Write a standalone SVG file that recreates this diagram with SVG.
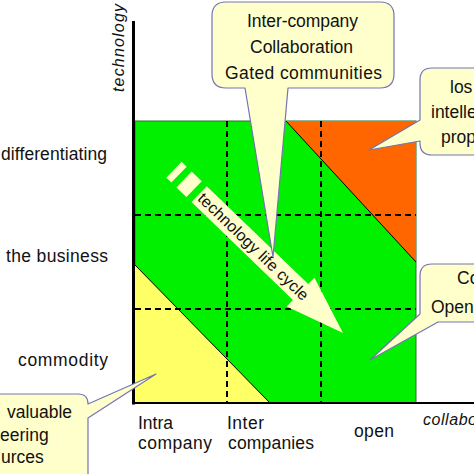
<svg xmlns="http://www.w3.org/2000/svg" width="474" height="474" viewBox="0 0 474 474">
<defs>
<style>
text{font-family:"Liberation Sans",Arial,sans-serif;fill:#111;}
.lbl{font-size:17.5px;}
.cl{font-size:17.5px;}
.ax{font-size:16px;font-style:italic;}
.dash{stroke:#000;stroke-width:2;stroke-dasharray:6 4;fill:none;}
.callout{fill:#ffffcc;stroke:#7474b4;stroke-width:1.2;stroke-linejoin:round;}
.diag{stroke:#000;stroke-width:1;}
</style>
</defs>
<rect width="474" height="474" fill="#fff"/>

<g id="regions">
<rect x="135" y="121" width="281" height="282" fill="#00f000" stroke="#2d6e2d" stroke-width="1"/>
<polygon points="286,121 416,121 416,262" fill="#ff6600"/>
<line class="diag" x1="286" y1="121" x2="416" y2="262"/>
<polygon points="135,265 135,403 270,403" fill="#ffff66"/>
<line class="diag" x1="135" y1="265" x2="270" y2="403"/>
</g>

<g id="grid">
<line class="dash" x1="227" y1="121" x2="227" y2="403"/>
<line class="dash" x1="321" y1="121" x2="321" y2="403"/>
<line class="dash" x1="135" y1="215" x2="416" y2="215"/>
<line class="dash" x1="135" y1="309" x2="416" y2="309"/>
</g>

<g id="axes">
<line x1="133.5" y1="21" x2="133.5" y2="404.5" stroke="#000" stroke-width="3"/>
<line x1="132" y1="403" x2="474" y2="403" stroke="#000" stroke-width="2.2"/>
<text class="ax" transform="translate(124,48) rotate(-90)" text-anchor="middle" textLength="88" lengthAdjust="spacing">technology</text>
<text class="ax" x="423" y="425" textLength="54" lengthAdjust="spacing">collabo</text>
</g>

<g id="y-labels">
<text class="lbl" x="1" y="160" textLength="106" lengthAdjust="spacing">differentiating</text>
<text class="lbl" x="6" y="262" textLength="102" lengthAdjust="spacing">the business</text>
<text class="lbl" x="18" y="366" textLength="90" lengthAdjust="spacing">commodity</text>
</g>

<g id="x-labels">
<text class="lbl" x="138" y="429" textLength="35" lengthAdjust="spacing">Intra</text>
<text class="lbl" x="138" y="449" textLength="74" lengthAdjust="spacing">company</text>
<text class="lbl" x="227" y="429" textLength="37" lengthAdjust="spacing">Inter</text>
<text class="lbl" x="228" y="449" textLength="86" lengthAdjust="spacing">companies</text>
<text class="lbl" x="354" y="437" textLength="40" lengthAdjust="spacing">open</text>
</g>

<g id="lifecycle-arrow" transform="translate(343,333) rotate(44)">
<path d="M0,0 L-59,20 L-59,11 L-200,11 L-200,-11 L-59,-11 L-59,-20 Z" fill="#ffffcc"/>
<rect x="-221" y="-11" width="14" height="22" fill="#ffffcc"/>
<rect x="-235" y="-11" width="7" height="22" fill="#ffffcc"/>
<text x="-198" y="5.5" font-size="16" textLength="147" lengthAdjust="spacing">technology life cycle</text>
</g>

<g id="callout-intercompany">
<path class="callout" d="M226,2 H380 Q394,2 394,16 V74 Q394,88 380,88 H288 L273,257 L245,88 H226 Q212,88 212,74 V16 Q212,2 226,2 Z"/>
<text class="cl" x="302.5" y="27" text-anchor="middle" textLength="111" lengthAdjust="spacing">Inter-company</text>
<text class="cl" x="301.5" y="53" text-anchor="middle" textLength="103" lengthAdjust="spacing">Collaboration</text>
<text class="cl" x="303.5" y="79" text-anchor="middle" textLength="157" lengthAdjust="spacing">Gated communities</text>
</g>

<g id="callout-loss">
<path class="callout" d="M432,68 H490 V155 H432 Q420,155 420,143 V141 L369,150 L420,120 V80 Q420,68 432,68 Z"/>
<text class="cl" x="450" y="93">los</text>
<text class="cl" x="431" y="118">intelle</text>
<text class="cl" x="441" y="143">prop</text>
</g>

<g id="callout-open">
<path class="callout" d="M432,264 H490 V322 H438 L370,360 L420,314 V276 Q420,264 432,264 Z"/>
<text class="cl" x="457" y="284">Co</text>
<text class="cl" x="431" y="313">Open</text>
</g>

<g id="callout-resources">
<path class="callout" d="M-10,394 H78 Q88,394 88,404 L156,374 L88,418 V490 H-10 Z"/>
<text class="cl" x="7" y="418" textLength="65" lengthAdjust="spacing">valuable</text>
<text class="cl" x="0" y="441">eering</text>
<text class="cl" x="1" y="463">urces</text>
</g>
</svg>
